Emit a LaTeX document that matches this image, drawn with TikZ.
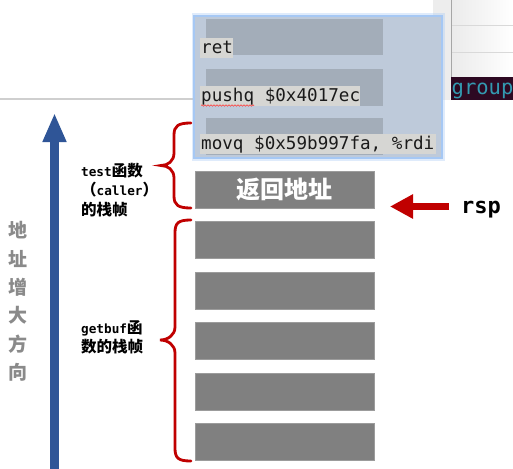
\documentclass[tikz,border=0pt]{standalone}
\usepackage{fontspec}
\setmonofont{DejaVu Sans Mono}
\newfontfamily\cjk{Noto Sans CJK SC}
\usetikzlibrary{arrows.meta,decorations.pathmorphing}
\definecolor{boxgray}{HTML}{808080}
\definecolor{boxedge}{HTML}{9C9C9C}
\definecolor{braceRed}{HTML}{C00000}
\definecolor{arrowBlue}{HTML}{2F5597}
\definecolor{popbg}{HTML}{BECADA}
\definecolor{popglow}{HTML}{A6C8F4}
\definecolor{popbar}{HTML}{A3ADB9}
\definecolor{hlcol}{HTML}{D6D6D3}
\definecolor{codecol}{HTML}{1A1A1A}
\definecolor{vtext}{HTML}{8A8A8A}
\definecolor{termbg}{HTML}{2D0922}
\definecolor{termcyan}{HTML}{3399B0}
\definecolor{sepline}{HTML}{CFCFCF}
\tikzset{
  stackbox/.style={fill=boxgray, draw=boxedge, line width=0.6pt, minimum width=179pt, minimum height=37pt, anchor=north west, inner sep=0pt},
  codetext/.style={font=\ttfamily\fontsize{17.6}{20}\selectfont, text=codecol, inner sep=0pt, anchor=base west},
  lbltext/.style={font=\ttfamily\bfseries\fontsize{12.7}{15}\selectfont, inner sep=0pt, anchor=base west},
  vchar/.style={font=\cjk\bfseries\fontsize{19}{19}\selectfont, text=vtext, inner sep=0pt},
  redbrace/.style={draw=braceRed, line width=2.8pt, line cap=round},
  redarrow/.style={draw=braceRed, line width=7pt, -{Triangle[length=23pt,width=23pt]}},
  bluearrow/.style={draw=arrowBlue, line width=9pt, -{Triangle[length=29pt,width=22pt]}},
}
\newcommand{\zh}[1]{{\cjk\fontsize{15.5}{15}\selectfont #1}}
\begin{document}
\begin{tikzpicture}[x=1pt,y=-1pt]
\useasboundingbox (0,0) rectangle (513,468);
\fill[white] (0,0) rectangle (513,468);
% top screenshot remnants
\draw[sepline, line width=1.5pt] (0,99) -- (194,99);
\fill[black!7] (433,0) rectangle (451,100);
\shade[left color=black!8, right color=white] (451,0) rectangle (513,77);
\draw[black!15, line width=0.8pt] (451,25) -- (513,25);
\draw[black!15, line width=0.8pt] (451,52) -- (513,52);
\draw[black!35, line width=0.8pt] (451,0) -- (451,100);
\fill[termbg] (451,77) rectangle (513,100);
\node[codetext, font=\ttfamily\fontsize{20.5}{22}\selectfont, text=termcyan] (grp) at (451.5,95) {group};
% blue arrow
\coordinate (aBot) at (54.5,470);
\coordinate (aTop) at (54.5,113);
\draw[bluearrow] (aBot) -- (aTop);
% vertical label
\foreach \c/\yy [count=\i] in {地/230,址/258.5,增/287,大/315.5,方/344,向/372.5}
  \node[vchar] (v\i) at (18,\yy) {\c};
% stack boxes
\node[stackbox, text=white, font=\cjk\bfseries\fontsize{24}{24}\selectfont] (b0) at (195,171) {返回地址};
\node[stackbox] (b1) at (195,221) {};
\node[stackbox] (b2) at (195,272) {};
\node[stackbox] (b3) at (195,322) {};
\node[stackbox] (b4) at (195,373) {};
\node[stackbox] (b5) at (195,423) {};
% braces
\draw[redbrace] (191,123) .. controls (178,123) and (174,126) .. (174,135)
  -- (174,153) .. controls (174,161) and (168,165.5) .. (161,165.5)
  .. controls (168,165.5) and (174,170) .. (174,178)
  -- (174,196) .. controls (174,205) and (178,208) .. (191,208);
\draw[redbrace] (191,220) .. controls (178,220) and (175,223) .. (175,233)
  -- (175,327) .. controls (175,335) and (168,340) .. (160,340)
  .. controls (168,340) and (175,345) .. (175,353)
  -- (175,448) .. controls (175,458) and (178,461) .. (191,461);
% labels
\node[lbltext] (l1a) at (81,176) {test\zh{函数}};
\node[lbltext] (l1b) at (81,195.5) {\zh{（}caller\zh{）}};
\node[lbltext] (l1c) at (81,215) {\zh{的栈帧}};
\node[lbltext] (l2a) at (81,333) {getbuf\zh{函}};
\node[lbltext] (l2b) at (81,352.5) {\zh{数的栈帧}};
% rsp arrow
\node[codetext, font=\ttfamily\bfseries\fontsize{22}{24}\selectfont, text=black] (rsp) at (461,213) {rsp};
\coordinate (rspTail) at (449,206.5);
\coordinate (rspTip) at (390,206.5);
\draw[redarrow] (rspTail) -- (rspTip);
% popup
\draw[popglow, line width=5pt, opacity=0.35] (194,16) rectangle (442,158);
\draw[popglow, line width=2pt, fill=popbg] (194,16) rectangle (442,158);
\fill[popbar] (206,19) rectangle (383,55);
\fill[popbar] (206,69) rectangle (383,106);
\fill[popbar] (206,118) rectangle (383,155);
\fill[hlcol] (200,38) rectangle (233,58);
\fill[hlcol] (200,86) rectangle (360,106);
\fill[hlcol] (200,134) rectangle (436,154);
\node[codetext] (c1) at (201,54) {ret};
\node[codetext] (c2) at (201,101) {pushq \$0x4017ec};
\node[codetext] (c3) at (201,149) {movq \$0x59b997fa, \%rdi};
\draw[red!80, line width=0.6pt, decorate, decoration={snake, amplitude=0.7pt, segment length=3pt}] (201,105.5) -- (254,105.5);
\end{tikzpicture}
\end{document}
